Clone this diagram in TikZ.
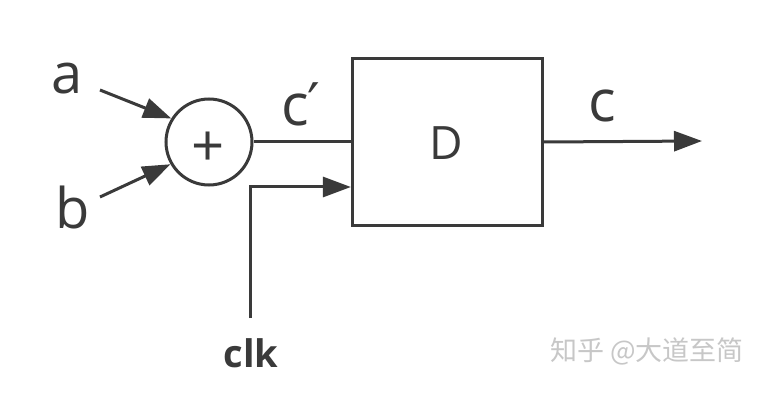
\documentclass[tikz,border=0pt]{standalone}
\usepackage{fontspec}
\setmainfont{Open Sans}
\newfontfamily\cjk{Noto Sans CJK SC}
\newfontfamily\primefont{DejaVu Sans}
\usetikzlibrary{arrows.meta}
\definecolor{ink}{HTML}{3A3A3A}
\tikzset{
 px/.style={x=1pt,y=-1pt},
 wire/.style={draw=ink,line width=3pt},
 arr/.style={wire,-{Triangle[length=28pt,width=20pt]}},
 lab/.style={text=ink,inner sep=0pt,anchor=center},
}
\begin{document}
\begin{tikzpicture}[px]
\useasboundingbox (0,0) rectangle (782,414);
\fill[white] (0,0) rectangle (782,414);
\node[draw=ink,line width=3.2pt,minimum width=190pt,minimum height=167pt,inner sep=0pt] (d) at (447.5,142) {};
\node[lab,font=\fontsize{46}{46}\selectfont] at (446,143) {D};
\node[circle,draw=ink,line width=3pt,minimum size=86pt,inner sep=0pt] (p) at (209,142) {};
\node[lab,font=\fontsize{58}{58}\selectfont] at (208,149) {+};
\coordinate (as) at (100,90);
\coordinate (bs) at (100,197);
\coordinate (ce) at (702,141);
\coordinate (cks) at (250,318);
\coordinate (ckc) at (250,187);
\draw[arr] (as) -- (p.148);
\draw[arr] (bs) -- (p.210);
\draw[wire] (p.east) -- (d.west |- 0,142);
\draw[arr] (d.east |- 0,142) -- (ce);
\draw[arr,line join=miter] (cks) -- (ckc) -- (d.west |- 0,187);
\node[lab,font=\fontsize{56}{56}\selectfont] (a) at (67,79) {a};
\node[lab,font=\fontsize{56}{56}\selectfont] (b) at (73,208) {b};
\node[lab,font=\fontsize{58}{58}\selectfont] (c1) at (301,104) {c\kern-1pt{\primefont\fontsize{56}{56}\selectfont\raisebox{2pt}{′}}};
\node[lab,font=\fontsize{58}{58}\selectfont] (c) at (602,106) {c};
\node[lab,font=\fontsize{38}{38}\selectfont\bfseries] (clk) at (251,353) {clk};
\node[lab,font=\cjk\fontsize{27}{27}\selectfont,text=black!22] (w) at (647,351) {知乎 @大道至简};
\end{tikzpicture}
\end{document}
